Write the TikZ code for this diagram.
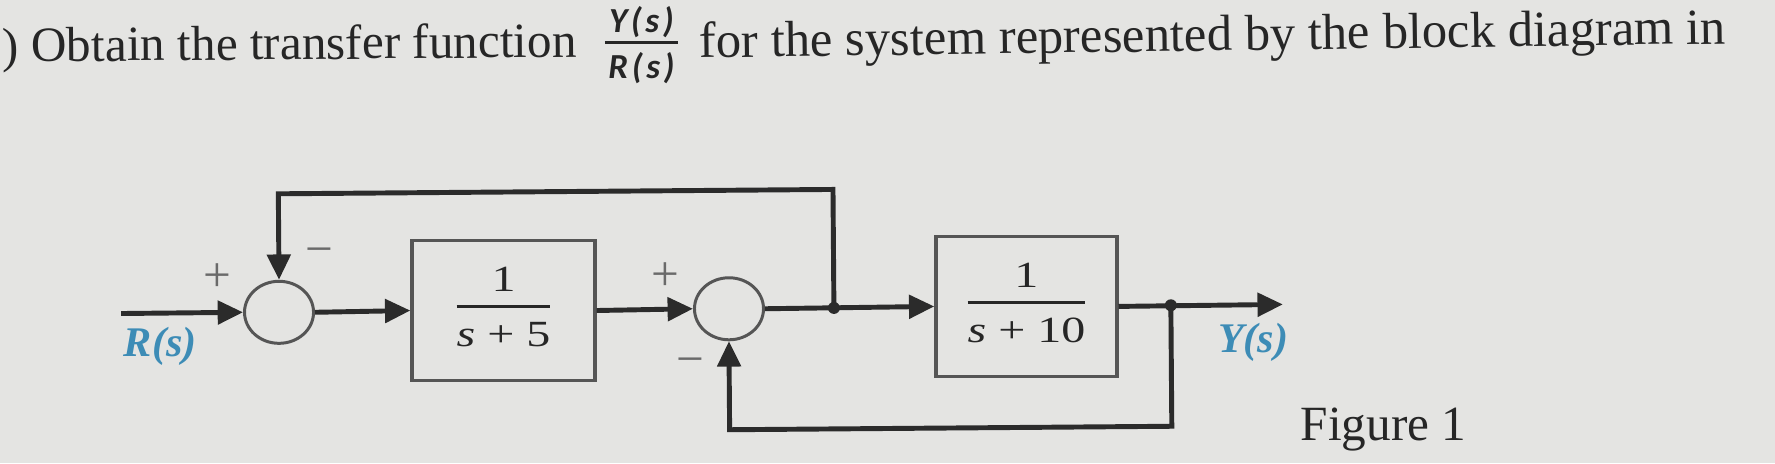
\documentclass[tikz,border=0pt]{standalone}
\usepackage{fontspec}
\setmainfont{Liberation Serif}
\newfontfamily\carlito{Carlito}
\usepackage{graphicx}
\usetikzlibrary{shapes.geometric,arrows.meta}
\setlength{\arrayrulewidth}{0.85pt}
\definecolor{bg}{HTML}{E4E4E2}
\definecolor{txtclr}{HTML}{262626}
\definecolor{lineclr}{HTML}{2B2B2B}
\definecolor{boxclr}{HTML}{555555}
\definecolor{sigclr}{HTML}{3D8CB6}
\definecolor{pmclr}{HTML}{6A6A6A}
\newcommand{\blkfrac}[2]{\scalebox{1.3}[1]{\begin{tabular}{@{}c@{}}#1\\[0pt]\hline\rule{0pt}{11pt}#2\end{tabular}}}
\begin{document}
\begin{tikzpicture}[x=0.01cm,y=-0.01cm,
  conn/.style={line width=1.4pt, draw=lineclr},
  arr/.style={conn, -{Triangle[length=7.2pt,width=6.6pt]}},
  sumj/.style={ellipse, draw=boxclr, line width=0.85pt, minimum width=0.69cm, minimum height=0.62cm, inner sep=0pt},
  blk/.style={rectangle, draw=boxclr, line width=0.9pt, inner sep=0pt, minimum height=1.40cm, text=txtclr, font=\fontsize{10.5}{12.6}\selectfont},
  sig/.style={text=sigclr, font=\fontsize{12}{14}\selectfont\bfseries\itshape, inner sep=0pt},
  pm/.style={text=pmclr, font=\fontsize{14}{16}\selectfont, inner sep=0pt},
  head/.style={text=txtclr, font=\fontsize{14}{17}\selectfont, inner sep=0pt, anchor=base west},
  hfrac/.style={text=txtclr, font=\carlito\bfseries\itshape\fontsize{10}{11}\selectfont, inner sep=0pt},
  dot/.style={circle, fill=lineclr, inner sep=0pt, minimum size=0.12cm}
]
\fill[bg] (0,0) rectangle (1775,463);
\useasboundingbox (0,0) rectangle (1775,463);

% heading
\node[head, rotate=0.5] (h1) at (2,62) {) Obtain the transfer function};
\node[hfrac] (tf) at (641.5,48) {\begin{tabular}{@{\kern1pt}c@{\kern1pt}}Y\kern1pt(\kern1pt s\kern1pt)\\[-1pt]\hline\rule{0pt}{10pt}R\kern1pt(\kern1pt s\kern1pt)\end{tabular}};
\node[head, rotate=0.8, font=\fontsize{14.4}{17}\selectfont] (h2) at (699,58) {for the system represented by the block diagram in};

\begin{scope}[rotate around={0.45:(700,309)}]
  \node[sumj] (s1) at (279,309) {};
  \node[blk, minimum width=1.83cm] (b1) at (503.5,309) {\blkfrac{1}{\textit{s} + 5}};
  \node[sumj] (s2) at (729,309) {};
  \node[blk, minimum width=1.81cm] (b2) at (1026.5,309) {\blkfrac{1}{\textit{s} + 10}};
  \coordinate (in) at (121,309);
  \coordinate (br1) at (834,309);
  \coordinate (top) at (834,190.5);
  \coordinate (br2) at (1171,309);
  \coordinate (bot) at (1171,430);
  \coordinate (out) at (1283,309);
  \draw[arr] (in) -- (s1.west);
  \draw[arr] (s1.east) -- (b1.west);
  \draw[arr] (b1.east) -- (s2.west);
  \draw[arr] (s2.east) -- (b2.west);
  \draw[arr] (br1) -- (top) -| (s1.north);
  \draw[arr] (b2.east) -- (out);
  \draw[arr] (br2) -- (bot) -| (s2.south);
  \node[dot] (d1) at (br1) {};
  \node[dot] (d2) at (br2) {};
  \node[pm] (p1) at (218,274) {+};
  \node[pm] (m1) at (320,254) {−};
  \node[pm] (p2) at (666,276) {+};
  \node[pm] (m2) at (690,367) {−};
  \node[sig] (rs) at (160,342) {R(s)};
  \node[sig] (ys) at (1253,347) {Y(s)};
\end{scope}

\node[head] (fig) at (1300,440) {Figure 1};
\end{tikzpicture}
\end{document}
